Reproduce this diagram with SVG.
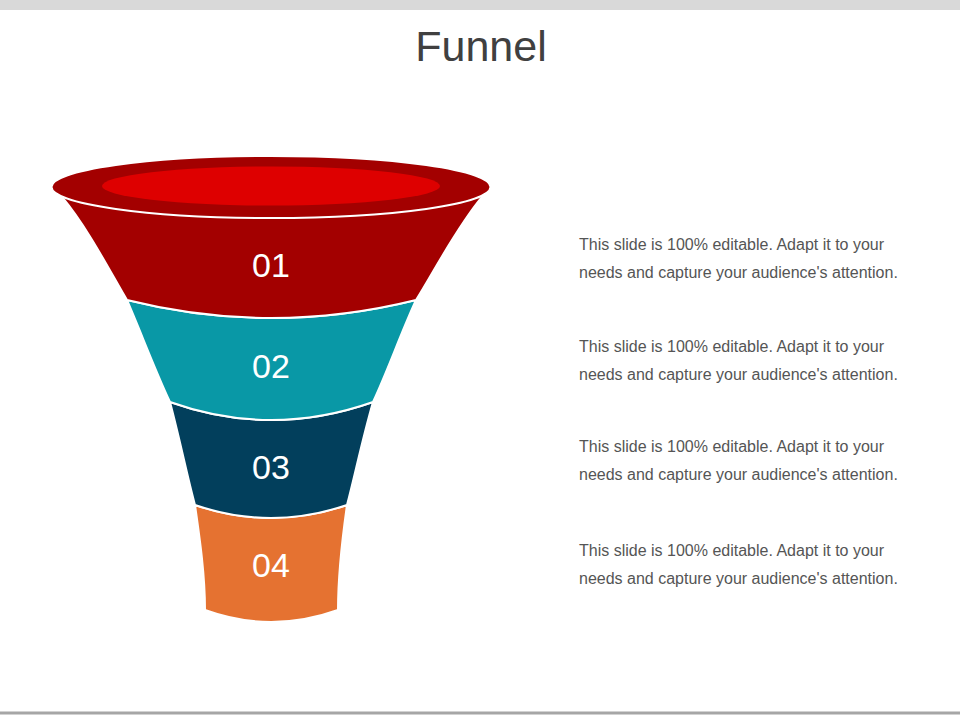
<svg xmlns="http://www.w3.org/2000/svg" width="960" height="720" viewBox="0 0 960 720">
  <style>
    .seg { stroke: #ffffff; stroke-width: 2; stroke-linejoin: round; }
    .num { font-family: "Liberation Sans", Arial, sans-serif; font-size: 34px; fill: #ffffff; text-anchor: middle; }
    .desc { font-family: "Liberation Sans", Arial, sans-serif; font-size: 16px; fill: #555555; }
    .title { font-family: "Liberation Sans", Arial, sans-serif; font-size: 43px; fill: #404040; text-anchor: middle; }
  </style>
  <rect x="0" y="0" width="960" height="720" fill="#ffffff"/>
  <rect x="0" y="0" width="960" height="10" fill="#d9d9d9"/>
  <rect x="0" y="711.5" width="960" height="3" fill="#a6a6a6"/>
  <text class="title" x="481" y="61">Funnel</text>

  <g id="connectors"></g>

  <g id="stage4">
    <path class="seg" fill="#e57231" d="M 195,505 Q 271,531 347,505 C 342,540 338,575 338,610 Q 271,634 205,610 C 205,575 200,540 195,505 Z"/>
    <text class="num" x="271" y="577">04</text>
  </g>
  <g id="stage3">
    <path class="seg" fill="#023f5c" d="M 170,402 Q 271,438 373,402 C 362,440 355,475 347,505 Q 271,531 195,505 C 187,475 180,440 170,402 Z"/>
    <text class="num" x="271" y="479">03</text>
  </g>
  <g id="stage2">
    <path class="seg" fill="#0998a6" d="M 127,300 Q 271,336 416,300 C 400,335 388,370 373,402 Q 271,438 170,402 C 155,370 142,335 127,300 Z"/>
    <text class="num" x="271" y="378">02</text>
  </g>
  <g id="stage1">
    <path class="seg" fill="#a30000" d="M 62,190 L 482,190 L 482,197 C 456,228 432,275 416,300 Q 271,336 127,300 C 112,275 88,228 62,197 Z"/>
    <ellipse cx="271" cy="187" rx="219.5" ry="31" fill="#a30000" stroke="#ffffff" stroke-width="2"/>
    <ellipse cx="271" cy="186" rx="169" ry="19.5" fill="#de0000"/>
    <text class="num" x="271" y="277">01</text>
  </g>

  <g id="text1">
    <text class="desc" x="579" y="250">This slide is 100% editable. Adapt it to your</text>
    <text class="desc" x="579" y="278">needs and capture your audience's attention.</text>
  </g>
  <g id="text2">
    <text class="desc" x="579" y="352">This slide is 100% editable. Adapt it to your</text>
    <text class="desc" x="579" y="380">needs and capture your audience's attention.</text>
  </g>
  <g id="text3">
    <text class="desc" x="579" y="452">This slide is 100% editable. Adapt it to your</text>
    <text class="desc" x="579" y="480">needs and capture your audience's attention.</text>
  </g>
  <g id="text4">
    <text class="desc" x="579" y="556">This slide is 100% editable. Adapt it to your</text>
    <text class="desc" x="579" y="584">needs and capture your audience's attention.</text>
  </g>
</svg>
